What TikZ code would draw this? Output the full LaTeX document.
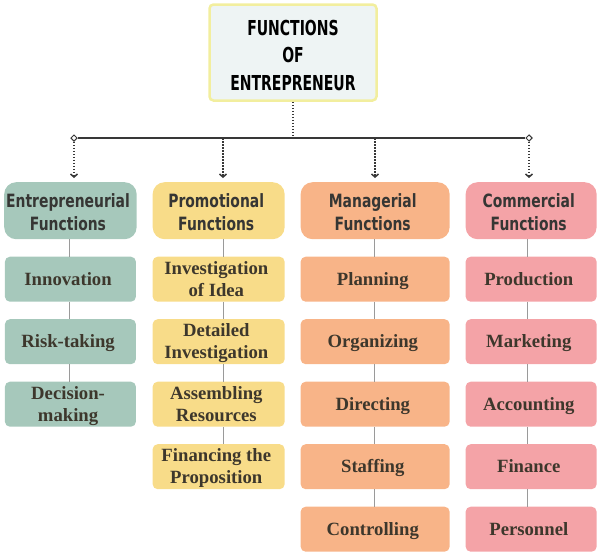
\documentclass[tikz,border=0pt]{standalone}
\usepackage{fontspec}
\setmainfont{Liberation Serif}
\newfontfamily\headfont[FakeStretch=0.68]{DejaVu Sans}
\newfontfamily\groupfont[FakeStretch=0.76]{DejaVu Sans}
\usetikzlibrary{matrix,shapes.geometric,arrows.meta}
\newcommand\twolines[2]{\begin{tabular}{@{}c@{}}#1\\#2\end{tabular}}
\definecolor{entcol}{HTML}{A6C8BB}
\definecolor{procol}{HTML}{F8DC89}
\definecolor{mancol}{HTML}{F8B488}
\definecolor{comcol}{HTML}{F4A3A7}
\definecolor{titlefill}{HTML}{EEF4F4}
\definecolor{titleedge}{HTML}{F2EE9E}
\definecolor{headtext}{HTML}{363634}
\definecolor{itemtext}{HTML}{3D372C}
\definecolor{linkgray}{HTML}{9A9A9A}
\definecolor{bargray}{HTML}{383838}
\tikzset{
  itembox/.style={anchor=center, inner sep=2pt, align=center, rounded corners=5pt,
    minimum height=45pt, text height=20pt, text depth=8pt, text=itemtext,
    font=\fontsize{18.7}{22}\selectfont\bfseries},
  headbox/.style={minimum height=57pt, text height=30pt, text depth=13pt, rounded corners=12pt,
    text=headtext, font=\groupfont\fontsize{18.3}{23}\selectfont\bfseries},
  titlebox/.style={draw=titleedge, line width=2.5pt, fill=titlefill, rounded corners=4pt,
    minimum width=167pt, minimum height=96pt, align=center, text=black,
    font=\headfont\fontsize{20.6}{27.5}\selectfont\bfseries},
  link/.style={draw=linkgray, line width=0.8pt},
  bar/.style={draw=bargray, line width=1.6pt},
  diam/.style={diamond, draw=bargray, fill=white, line width=1pt, inner sep=0pt, minimum size=6.5pt},
  dotline/.style={draw=bargray, line width=1.5pt, dash pattern=on 1.5pt off 1.5pt},
  dotarrow/.style={dotline, -{Straight Barb[length=3pt,width=7pt]}, shorten >=4pt}
}
\begin{document}
\begin{tikzpicture}[x=1pt, y=-1pt]
\useasboundingbox (0,0) rectangle (600,557);
\node[titlebox] (title) at (293,52.5) {\rule{0pt}{21pt}FUNCTIONS\\OF\\ENTREPRENEUR};
\matrix (m) [matrix of nodes, matrix anchor=north west, inner sep=0pt, row sep=17.5pt, column sep=16pt,
  nodes={itembox}, row 1/.style={nodes={headbox}},
  column 1/.style={nodes={fill=entcol, minimum width=131pt}},
  column 2/.style={nodes={fill=procol, minimum width=132pt}},
  column 3/.style={nodes={fill=mancol, minimum width=149pt}},
  column 4/.style={nodes={fill=comcol, minimum width=131pt}}] at (4,182) {
	\twolines{Entrepreneurial}{Functions} & \twolines{Promotional}{Functions} & \twolines{Managerial}{Functions} & \twolines{Commercial}{Functions} \\
	Innovation & \twolines{Investigation}{of Idea} & Planning & Production \\
	Risk-taking & \twolines{Detailed}{Investigation} & Organizing & Marketing \\
	\twolines{Decision-}{making} & \twolines{Assembling}{Resources} & Directing & Accounting \\
	& \twolines{Financing the}{Proposition} & Staffing & Finance \\
	& & Controlling & Personnel \\
};
\node[diam] (dl) at (74,138) {};
\node[diam] (dr) at (529,138) {};
\coordinate (b2) at (223,138);
\coordinate (b3) at (375,138);
\coordinate (hub) at (title.south |- dl);
\coordinate (k1) at (69.5,138);
\coordinate (k2) at (223,138);
\coordinate (k3) at (374.5,138);
\coordinate (k4) at (527,138);
\draw[bar] (dl) -- (dr);
\draw[dotline] (title.south) -- (hub);
\foreach \s/\c in {dl/1,b2/2,b3/3,dr/4}
	\draw[dotarrow] (\s) -- (\s |- m-1-\c.north);
\foreach \c/\last in {1/4,2/5,3/6,4/6}
	\foreach \r in {2,...,\last} {
		\pgfmathtruncatemacro\p{\r-1}
		\draw[link] (k\c |- m-\p-\c.south) -- (k\c |- m-\r-\c.north);
	}
\end{tikzpicture}
\end{document}
